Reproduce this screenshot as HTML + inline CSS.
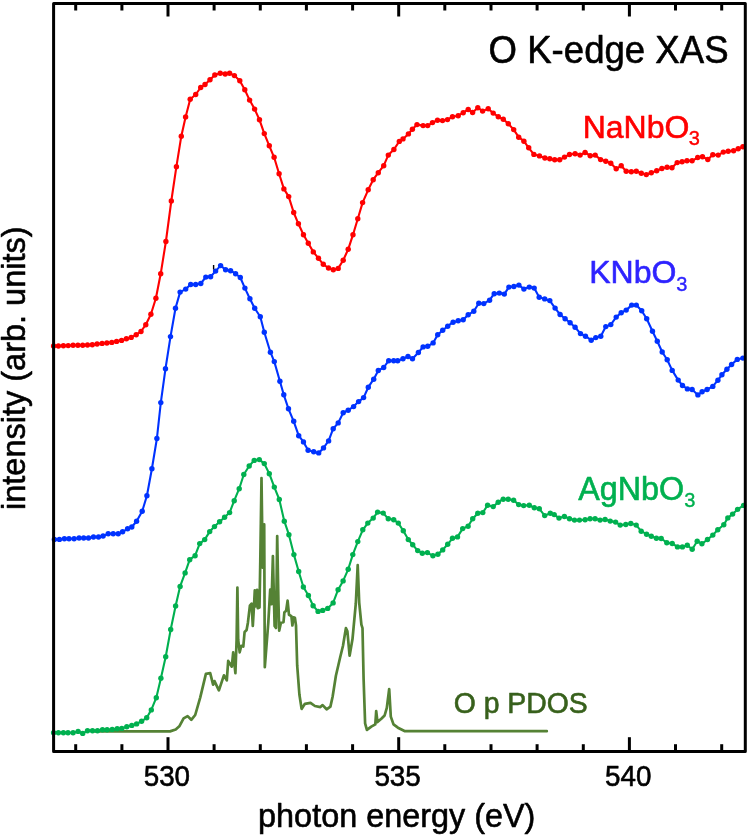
<!DOCTYPE html>
<html lang="en"><head><meta charset="utf-8"><title>O K-edge XAS</title>
<style>html,body{margin:0;padding:0;background:#fff}body{width:748px;height:835px;overflow:hidden}svg{display:block}</style>
</head><body>
<svg width="748" height="835" viewBox="0 0 748 835" font-family="'Liberation Sans', Arial, Helvetica, sans-serif">
<rect width="748" height="835" fill="#fff"/>
<defs><filter id="soft" x="0" y="0" width="100%" height="100%" filterUnits="userSpaceOnUse"><feGaussianBlur stdDeviation="0.45"/></filter></defs>
<g filter="url(#soft)">
<polyline points="95.0,731.4 170.0,731.4 175.7,729.5 179.3,726.3 183.6,718.4 187.6,716.1 191.3,719.8 195.2,715.0 200.2,697.6 205.9,673.9 210.2,673.2 213.1,684.7 214.5,681.1 218.9,690.4 223.9,675.3 226.8,680.3 228.2,660.9 231.8,666.7 233.2,652.3 235.4,673.2 236.6,640.0 237.4,587.5 238.2,640.0 239.7,652.3 241.3,645.8 243.3,646.5 244.6,632.0 246.6,630.0 247.9,622.7 249.9,605.6 251.6,603.6 252.8,626.0 253.8,609.5 254.8,590.4 255.4,606.5 256.0,591.0 256.5,606.0 257.1,589.8 257.8,608.2 259.5,607.6 260.3,560.0 261.5,478.0 262.7,567.7 264.2,524.4 264.8,667.2 268.3,622.7 270.2,589.5 271.5,604.1 272.9,556.0 274.6,626.0 276.0,628.0 277.2,536.0 278.4,600.0 279.2,630.6 280.9,622.7 283.5,622.1 284.4,612.2 286.1,610.9 287.6,600.6 289.0,614.8 291.4,616.1 292.4,625.5 293.5,617.3 294.9,617.8 296.0,625.4 297.2,665.7 299.4,694.5 301.6,708.9 304.9,703.8 310.5,702.9 314.9,706.0 320.4,707.1 322.6,705.1 326.6,709.3 330.4,706.6 332.6,696.7 335.9,675.7 340.3,656.8 343.0,645.8 345.9,628.1 347.4,631.4 349.6,655.7 352.5,639.1 355.8,603.7 357.7,565.0 359.2,602.6 361.4,624.7 362.5,628.1 363.6,679.0 365.1,723.3 366.9,729.9 371.3,726.6 375.3,724.4 376.2,711.1 377.5,722.1 381.3,718.8 384.6,715.5 386.8,707.8 389.2,689.0 390.8,716.6 393.5,724.4 397.9,727.7 405.0,731.2 546.8,731.2" fill="none" stroke="#548235" stroke-width="2.7" stroke-linejoin="round" stroke-linecap="round"/>
<polyline points="53.6,732.8 58.4,732.8 63.4,732.8 68.0,732.8 73.1,732.8 78.1,731.4 82.7,733.4 87.5,730.8 92.5,730.8 97.5,730.8 102.5,729.8 107.1,729.8 112.2,729.4 117.2,728.8 121.8,728.4 126.8,726.8 131.8,725.4 136.6,723.9 141.6,721.3 146.7,717.7 151.3,709.9 156.3,697.7 160.9,678.2 165.7,656.8 170.7,629.5 175.6,606.0 180.1,586.4 185.1,572.9 189.7,559.7 195.1,555.7 199.7,543.6 204.7,539.6 209.7,531.6 214.5,526.6 219.6,521.8 224.6,517.2 229.6,512.6 234.2,500.7 239.2,488.7 243.8,474.5 249.2,466.0 254.2,460.4 259.3,459.6 264.3,463.6 269.3,473.7 274.3,487.1 279.3,499.5 284.3,521.2 288.9,534.7 293.9,554.6 298.7,571.5 303.4,587.0 308.4,595.5 313.1,605.8 318.1,611.4 322.7,610.4 327.7,608.4 333.1,602.9 338.1,589.7 343.1,580.9 348.2,569.3 352.8,554.6 357.8,541.6 362.8,529.8 367.8,523.1 373.2,518.1 377.6,512.1 383.2,513.1 388.3,518.7 393.7,519.7 398.3,523.1 403.3,530.8 408.3,539.6 412.7,544.8 417.7,550.6 422.3,553.2 427.4,552.6 432.9,555.8 437.9,554.2 442.7,549.9 447.7,544.3 452.5,538.3 457.5,536.9 462.7,528.6 468.1,526.2 472.7,518.8 477.8,513.2 482.8,512.6 487.6,505.2 493.2,506.6 498.2,502.2 503.2,499.2 508.2,499.2 513.6,500.2 518.7,504.6 523.7,505.6 529.3,505.2 534.3,507.8 539.3,508.8 544.7,515.6 550.3,513.2 554.2,514.6 559.0,518.1 564.4,516.5 569.5,518.7 574.5,520.1 579.5,520.1 585.1,519.7 590.1,518.7 595.1,518.7 600.1,520.1 605.1,519.5 610.2,521.1 615.6,522.1 620.2,525.1 625.8,524.5 630.8,523.5 636.2,525.1 641.2,531.2 646.6,534.2 651.3,536.2 656.4,538.3 661.2,538.5 666.8,542.7 672.2,543.5 677.5,546.9 682.4,546.9 687.3,545.3 692.2,549.3 697.2,541.2 701.9,543.8 707.5,539.5 712.8,535.1 717.8,529.8 723.8,524.8 727.8,517.9 732.6,514.1 737.6,509.4 743.6,505.4" fill="none" stroke="#00b050" stroke-width="2.1" stroke-linejoin="round" stroke-linecap="round"/>
<g fill="#00b050"><circle cx="53.6" cy="732.8" r="2.7"/><circle cx="58.4" cy="732.8" r="2.7"/><circle cx="63.4" cy="732.8" r="2.7"/><circle cx="68.0" cy="732.8" r="2.7"/><circle cx="73.1" cy="732.8" r="2.7"/><circle cx="78.1" cy="731.4" r="2.7"/><circle cx="82.7" cy="733.4" r="2.7"/><circle cx="87.5" cy="730.8" r="2.7"/><circle cx="92.5" cy="730.8" r="2.7"/><circle cx="97.5" cy="730.8" r="2.7"/><circle cx="102.5" cy="729.8" r="2.7"/><circle cx="107.1" cy="729.8" r="2.7"/><circle cx="112.2" cy="729.4" r="2.7"/><circle cx="117.2" cy="728.8" r="2.7"/><circle cx="121.8" cy="728.4" r="2.7"/><circle cx="126.8" cy="726.8" r="2.7"/><circle cx="131.8" cy="725.4" r="2.7"/><circle cx="136.6" cy="723.9" r="2.7"/><circle cx="141.6" cy="721.3" r="2.7"/><circle cx="146.7" cy="717.7" r="2.7"/><circle cx="151.3" cy="709.9" r="2.7"/><circle cx="156.3" cy="697.7" r="2.7"/><circle cx="160.9" cy="678.2" r="2.7"/><circle cx="165.7" cy="656.8" r="2.7"/><circle cx="170.7" cy="629.5" r="2.7"/><circle cx="175.6" cy="606.0" r="2.7"/><circle cx="180.1" cy="586.4" r="2.7"/><circle cx="185.1" cy="572.9" r="2.7"/><circle cx="189.7" cy="559.7" r="2.7"/><circle cx="195.1" cy="555.7" r="2.7"/><circle cx="199.7" cy="543.6" r="2.7"/><circle cx="204.7" cy="539.6" r="2.7"/><circle cx="209.7" cy="531.6" r="2.7"/><circle cx="214.5" cy="526.6" r="2.7"/><circle cx="219.6" cy="521.8" r="2.7"/><circle cx="224.6" cy="517.2" r="2.7"/><circle cx="229.6" cy="512.6" r="2.7"/><circle cx="234.2" cy="500.7" r="2.7"/><circle cx="239.2" cy="488.7" r="2.7"/><circle cx="243.8" cy="474.5" r="2.7"/><circle cx="249.2" cy="466.0" r="2.7"/><circle cx="254.2" cy="460.4" r="2.7"/><circle cx="259.3" cy="459.6" r="2.7"/><circle cx="264.3" cy="463.6" r="2.7"/><circle cx="269.3" cy="473.7" r="2.7"/><circle cx="274.3" cy="487.1" r="2.7"/><circle cx="279.3" cy="499.5" r="2.7"/><circle cx="284.3" cy="521.2" r="2.7"/><circle cx="288.9" cy="534.7" r="2.7"/><circle cx="293.9" cy="554.6" r="2.7"/><circle cx="298.7" cy="571.5" r="2.7"/><circle cx="303.4" cy="587.0" r="2.7"/><circle cx="308.4" cy="595.5" r="2.7"/><circle cx="313.1" cy="605.8" r="2.7"/><circle cx="318.1" cy="611.4" r="2.7"/><circle cx="322.7" cy="610.4" r="2.7"/><circle cx="327.7" cy="608.4" r="2.7"/><circle cx="333.1" cy="602.9" r="2.7"/><circle cx="338.1" cy="589.7" r="2.7"/><circle cx="343.1" cy="580.9" r="2.7"/><circle cx="348.2" cy="569.3" r="2.7"/><circle cx="352.8" cy="554.6" r="2.7"/><circle cx="357.8" cy="541.6" r="2.7"/><circle cx="362.8" cy="529.8" r="2.7"/><circle cx="367.8" cy="523.1" r="2.7"/><circle cx="373.2" cy="518.1" r="2.7"/><circle cx="377.6" cy="512.1" r="2.7"/><circle cx="383.2" cy="513.1" r="2.7"/><circle cx="388.3" cy="518.7" r="2.7"/><circle cx="393.7" cy="519.7" r="2.7"/><circle cx="398.3" cy="523.1" r="2.7"/><circle cx="403.3" cy="530.8" r="2.7"/><circle cx="408.3" cy="539.6" r="2.7"/><circle cx="412.7" cy="544.8" r="2.7"/><circle cx="417.7" cy="550.6" r="2.7"/><circle cx="422.3" cy="553.2" r="2.7"/><circle cx="427.4" cy="552.6" r="2.7"/><circle cx="432.9" cy="555.8" r="2.7"/><circle cx="437.9" cy="554.2" r="2.7"/><circle cx="442.7" cy="549.9" r="2.7"/><circle cx="447.7" cy="544.3" r="2.7"/><circle cx="452.5" cy="538.3" r="2.7"/><circle cx="457.5" cy="536.9" r="2.7"/><circle cx="462.7" cy="528.6" r="2.7"/><circle cx="468.1" cy="526.2" r="2.7"/><circle cx="472.7" cy="518.8" r="2.7"/><circle cx="477.8" cy="513.2" r="2.7"/><circle cx="482.8" cy="512.6" r="2.7"/><circle cx="487.6" cy="505.2" r="2.7"/><circle cx="493.2" cy="506.6" r="2.7"/><circle cx="498.2" cy="502.2" r="2.7"/><circle cx="503.2" cy="499.2" r="2.7"/><circle cx="508.2" cy="499.2" r="2.7"/><circle cx="513.6" cy="500.2" r="2.7"/><circle cx="518.7" cy="504.6" r="2.7"/><circle cx="523.7" cy="505.6" r="2.7"/><circle cx="529.3" cy="505.2" r="2.7"/><circle cx="534.3" cy="507.8" r="2.7"/><circle cx="539.3" cy="508.8" r="2.7"/><circle cx="544.7" cy="515.6" r="2.7"/><circle cx="550.3" cy="513.2" r="2.7"/><circle cx="554.2" cy="514.6" r="2.7"/><circle cx="559.0" cy="518.1" r="2.7"/><circle cx="564.4" cy="516.5" r="2.7"/><circle cx="569.5" cy="518.7" r="2.7"/><circle cx="574.5" cy="520.1" r="2.7"/><circle cx="579.5" cy="520.1" r="2.7"/><circle cx="585.1" cy="519.7" r="2.7"/><circle cx="590.1" cy="518.7" r="2.7"/><circle cx="595.1" cy="518.7" r="2.7"/><circle cx="600.1" cy="520.1" r="2.7"/><circle cx="605.1" cy="519.5" r="2.7"/><circle cx="610.2" cy="521.1" r="2.7"/><circle cx="615.6" cy="522.1" r="2.7"/><circle cx="620.2" cy="525.1" r="2.7"/><circle cx="625.8" cy="524.5" r="2.7"/><circle cx="630.8" cy="523.5" r="2.7"/><circle cx="636.2" cy="525.1" r="2.7"/><circle cx="641.2" cy="531.2" r="2.7"/><circle cx="646.6" cy="534.2" r="2.7"/><circle cx="651.3" cy="536.2" r="2.7"/><circle cx="656.4" cy="538.3" r="2.7"/><circle cx="661.2" cy="538.5" r="2.7"/><circle cx="666.8" cy="542.7" r="2.7"/><circle cx="672.2" cy="543.5" r="2.7"/><circle cx="677.5" cy="546.9" r="2.7"/><circle cx="682.4" cy="546.9" r="2.7"/><circle cx="687.3" cy="545.3" r="2.7"/><circle cx="692.2" cy="549.3" r="2.7"/><circle cx="697.2" cy="541.2" r="2.7"/><circle cx="701.9" cy="543.8" r="2.7"/><circle cx="707.5" cy="539.5" r="2.7"/><circle cx="712.8" cy="535.1" r="2.7"/><circle cx="717.8" cy="529.8" r="2.7"/><circle cx="723.8" cy="524.8" r="2.7"/><circle cx="727.8" cy="517.9" r="2.7"/><circle cx="732.6" cy="514.1" r="2.7"/><circle cx="737.6" cy="509.4" r="2.7"/><circle cx="743.6" cy="505.4" r="2.7"/></g>
<polyline points="54.4,539.4 59.4,539.4 64.4,538.8 69.0,538.8 74.1,538.8 79.1,538.0 83.7,538.0 88.5,538.0 93.5,537.0 98.5,537.0 103.1,536.0 108.2,533.8 113.2,533.8 118.2,533.8 122.6,531.8 127.6,528.8 131.8,527.0 136.6,521.3 142.2,511.3 146.9,495.7 151.9,468.8 156.9,438.5 160.8,402.6 165.5,368.7 170.5,336.6 175.5,308.2 180.1,292.1 185.7,289.1 190.7,284.5 195.7,284.5 200.8,283.5 205.8,277.1 210.6,276.7 215.6,271.1 220.6,265.6 225.6,269.7 230.6,270.7 235.6,273.7 240.3,277.5 244.9,288.1 249.9,298.7 254.7,308.2 260.3,316.8 264.3,332.2 270.4,352.2 274.3,361.6 279.9,381.2 283.8,394.8 288.5,408.8 293.7,421.3 298.7,435.7 303.5,441.9 308.1,450.3 313.7,451.7 318.7,452.9 323.5,447.9 328.6,440.9 333.2,428.7 338.2,422.9 343.2,412.8 348.2,410.2 353.6,406.6 358.6,401.6 363.6,397.6 368.3,387.2 373.7,379.2 378.3,370.5 383.7,367.5 388.7,360.7 393.7,360.7 397.7,360.7 403.0,358.7 408.0,356.5 412.5,358.8 418.4,352.5 423.1,346.9 427.7,346.3 433.1,342.9 437.7,334.8 442.7,330.2 447.7,326.2 453.1,322.2 458.2,320.8 463.2,319.8 468.2,314.8 473.8,311.2 478.8,303.2 483.8,303.6 489.6,300.2 494.2,293.7 499.3,293.1 504.3,294.1 508.9,287.1 513.9,286.5 518.9,285.1 523.9,289.1 529.3,287.1 534.2,288.1 539.2,297.3 544.7,298.9 549.8,300.6 555.1,308.1 560.1,314.5 565.1,318.8 570.1,322.8 575.1,327.2 580.5,333.6 585.5,336.2 591.2,340.2 595.8,337.6 600.8,336.2 605.8,326.6 610.8,324.6 616.2,317.1 621.2,312.7 626.2,310.1 631.7,305.1 636.3,305.1 641.7,310.7 646.7,318.8 652.5,331.3 657.3,341.2 662.2,352.0 667.2,359.7 672.2,370.4 678.2,380.1 682.5,385.5 687.4,388.9 692.1,389.5 697.9,394.9 702.1,391.8 707.1,389.5 712.8,386.4 717.9,380.2 721.9,374.8 726.9,369.2 731.6,364.5 737.3,359.4 742.9,358.1" fill="none" stroke="#0433ff" stroke-width="2.1" stroke-linejoin="round" stroke-linecap="round"/>
<g fill="#0433ff"><circle cx="54.4" cy="539.4" r="2.7"/><circle cx="59.4" cy="539.4" r="2.7"/><circle cx="64.4" cy="538.8" r="2.7"/><circle cx="69.0" cy="538.8" r="2.7"/><circle cx="74.1" cy="538.8" r="2.7"/><circle cx="79.1" cy="538.0" r="2.7"/><circle cx="83.7" cy="538.0" r="2.7"/><circle cx="88.5" cy="538.0" r="2.7"/><circle cx="93.5" cy="537.0" r="2.7"/><circle cx="98.5" cy="537.0" r="2.7"/><circle cx="103.1" cy="536.0" r="2.7"/><circle cx="108.2" cy="533.8" r="2.7"/><circle cx="113.2" cy="533.8" r="2.7"/><circle cx="118.2" cy="533.8" r="2.7"/><circle cx="122.6" cy="531.8" r="2.7"/><circle cx="127.6" cy="528.8" r="2.7"/><circle cx="131.8" cy="527.0" r="2.7"/><circle cx="136.6" cy="521.3" r="2.7"/><circle cx="142.2" cy="511.3" r="2.7"/><circle cx="146.9" cy="495.7" r="2.7"/><circle cx="151.9" cy="468.8" r="2.7"/><circle cx="156.9" cy="438.5" r="2.7"/><circle cx="160.8" cy="402.6" r="2.7"/><circle cx="165.5" cy="368.7" r="2.7"/><circle cx="170.5" cy="336.6" r="2.7"/><circle cx="175.5" cy="308.2" r="2.7"/><circle cx="180.1" cy="292.1" r="2.7"/><circle cx="185.7" cy="289.1" r="2.7"/><circle cx="190.7" cy="284.5" r="2.7"/><circle cx="195.7" cy="284.5" r="2.7"/><circle cx="200.8" cy="283.5" r="2.7"/><circle cx="205.8" cy="277.1" r="2.7"/><circle cx="210.6" cy="276.7" r="2.7"/><circle cx="215.6" cy="271.1" r="2.7"/><circle cx="220.6" cy="265.6" r="2.7"/><circle cx="225.6" cy="269.7" r="2.7"/><circle cx="230.6" cy="270.7" r="2.7"/><circle cx="235.6" cy="273.7" r="2.7"/><circle cx="240.3" cy="277.5" r="2.7"/><circle cx="244.9" cy="288.1" r="2.7"/><circle cx="249.9" cy="298.7" r="2.7"/><circle cx="254.7" cy="308.2" r="2.7"/><circle cx="260.3" cy="316.8" r="2.7"/><circle cx="264.3" cy="332.2" r="2.7"/><circle cx="270.4" cy="352.2" r="2.7"/><circle cx="274.3" cy="361.6" r="2.7"/><circle cx="279.9" cy="381.2" r="2.7"/><circle cx="283.8" cy="394.8" r="2.7"/><circle cx="288.5" cy="408.8" r="2.7"/><circle cx="293.7" cy="421.3" r="2.7"/><circle cx="298.7" cy="435.7" r="2.7"/><circle cx="303.5" cy="441.9" r="2.7"/><circle cx="308.1" cy="450.3" r="2.7"/><circle cx="313.7" cy="451.7" r="2.7"/><circle cx="318.7" cy="452.9" r="2.7"/><circle cx="323.5" cy="447.9" r="2.7"/><circle cx="328.6" cy="440.9" r="2.7"/><circle cx="333.2" cy="428.7" r="2.7"/><circle cx="338.2" cy="422.9" r="2.7"/><circle cx="343.2" cy="412.8" r="2.7"/><circle cx="348.2" cy="410.2" r="2.7"/><circle cx="353.6" cy="406.6" r="2.7"/><circle cx="358.6" cy="401.6" r="2.7"/><circle cx="363.6" cy="397.6" r="2.7"/><circle cx="368.3" cy="387.2" r="2.7"/><circle cx="373.7" cy="379.2" r="2.7"/><circle cx="378.3" cy="370.5" r="2.7"/><circle cx="383.7" cy="367.5" r="2.7"/><circle cx="388.7" cy="360.7" r="2.7"/><circle cx="393.7" cy="360.7" r="2.7"/><circle cx="397.7" cy="360.7" r="2.7"/><circle cx="403.0" cy="358.7" r="2.7"/><circle cx="408.0" cy="356.5" r="2.7"/><circle cx="412.5" cy="358.8" r="2.7"/><circle cx="418.4" cy="352.5" r="2.7"/><circle cx="423.1" cy="346.9" r="2.7"/><circle cx="427.7" cy="346.3" r="2.7"/><circle cx="433.1" cy="342.9" r="2.7"/><circle cx="437.7" cy="334.8" r="2.7"/><circle cx="442.7" cy="330.2" r="2.7"/><circle cx="447.7" cy="326.2" r="2.7"/><circle cx="453.1" cy="322.2" r="2.7"/><circle cx="458.2" cy="320.8" r="2.7"/><circle cx="463.2" cy="319.8" r="2.7"/><circle cx="468.2" cy="314.8" r="2.7"/><circle cx="473.8" cy="311.2" r="2.7"/><circle cx="478.8" cy="303.2" r="2.7"/><circle cx="483.8" cy="303.6" r="2.7"/><circle cx="489.6" cy="300.2" r="2.7"/><circle cx="494.2" cy="293.7" r="2.7"/><circle cx="499.3" cy="293.1" r="2.7"/><circle cx="504.3" cy="294.1" r="2.7"/><circle cx="508.9" cy="287.1" r="2.7"/><circle cx="513.9" cy="286.5" r="2.7"/><circle cx="518.9" cy="285.1" r="2.7"/><circle cx="523.9" cy="289.1" r="2.7"/><circle cx="529.3" cy="287.1" r="2.7"/><circle cx="534.2" cy="288.1" r="2.7"/><circle cx="539.2" cy="297.3" r="2.7"/><circle cx="544.7" cy="298.9" r="2.7"/><circle cx="549.8" cy="300.6" r="2.7"/><circle cx="555.1" cy="308.1" r="2.7"/><circle cx="560.1" cy="314.5" r="2.7"/><circle cx="565.1" cy="318.8" r="2.7"/><circle cx="570.1" cy="322.8" r="2.7"/><circle cx="575.1" cy="327.2" r="2.7"/><circle cx="580.5" cy="333.6" r="2.7"/><circle cx="585.5" cy="336.2" r="2.7"/><circle cx="591.2" cy="340.2" r="2.7"/><circle cx="595.8" cy="337.6" r="2.7"/><circle cx="600.8" cy="336.2" r="2.7"/><circle cx="605.8" cy="326.6" r="2.7"/><circle cx="610.8" cy="324.6" r="2.7"/><circle cx="616.2" cy="317.1" r="2.7"/><circle cx="621.2" cy="312.7" r="2.7"/><circle cx="626.2" cy="310.1" r="2.7"/><circle cx="631.7" cy="305.1" r="2.7"/><circle cx="636.3" cy="305.1" r="2.7"/><circle cx="641.7" cy="310.7" r="2.7"/><circle cx="646.7" cy="318.8" r="2.7"/><circle cx="652.5" cy="331.3" r="2.7"/><circle cx="657.3" cy="341.2" r="2.7"/><circle cx="662.2" cy="352.0" r="2.7"/><circle cx="667.2" cy="359.7" r="2.7"/><circle cx="672.2" cy="370.4" r="2.7"/><circle cx="678.2" cy="380.1" r="2.7"/><circle cx="682.5" cy="385.5" r="2.7"/><circle cx="687.4" cy="388.9" r="2.7"/><circle cx="692.1" cy="389.5" r="2.7"/><circle cx="697.9" cy="394.9" r="2.7"/><circle cx="702.1" cy="391.8" r="2.7"/><circle cx="707.1" cy="389.5" r="2.7"/><circle cx="712.8" cy="386.4" r="2.7"/><circle cx="717.9" cy="380.2" r="2.7"/><circle cx="721.9" cy="374.8" r="2.7"/><circle cx="726.9" cy="369.2" r="2.7"/><circle cx="731.6" cy="364.5" r="2.7"/><circle cx="737.3" cy="359.4" r="2.7"/><circle cx="742.9" cy="358.1" r="2.7"/></g>
<polyline points="53.6,346.0 58.4,346.0 63.4,345.8 68.2,345.6 73.1,345.2 77.9,345.2 82.7,345.2 87.5,345.0 92.3,344.8 97.1,344.0 102.1,343.4 106.9,343.0 111.8,342.4 116.6,341.4 121.6,340.4 126.4,338.8 131.2,337.4 136.2,334.7 141.0,331.5 145.8,324.7 150.9,314.3 155.9,298.3 160.7,273.8 165.9,241.5 171.3,201.0 176.4,166.7 181.3,136.2 185.6,116.9 190.2,99.3 195.7,94.5 200.7,87.5 205.0,84.5 210.0,79.7 214.8,75.0 220.2,73.2 225.2,74.0 229.6,73.2 234.4,75.6 239.8,80.7 244.8,89.7 249.6,100.1 254.6,109.1 259.5,119.8 264.3,133.6 269.3,145.8 274.1,157.3 279.1,173.7 283.9,188.9 288.7,196.6 293.7,212.5 298.4,223.8 303.5,234.7 308.3,243.3 313.3,251.9 318.5,258.3 323.3,264.3 328.5,268.0 333.3,269.8 338.2,268.4 343.2,260.3 348.2,249.3 353.0,234.7 357.8,218.8 362.6,202.6 368.2,189.8 373.2,179.7 378.3,172.7 383.7,165.7 388.3,155.1 393.9,149.5 399.3,141.4 403.0,138.9 408.4,133.9 412.4,129.3 417.0,124.6 423.1,125.6 427.7,125.6 432.5,122.6 437.5,120.2 442.5,120.6 447.5,119.6 452.5,116.7 458.2,115.7 463.2,112.7 468.2,109.5 472.6,112.5 477.8,107.7 482.6,111.1 488.2,108.7 493.2,113.1 498.3,116.7 503.3,119.2 508.3,123.8 513.7,129.6 518.7,137.2 523.9,141.2 528.7,147.8 533.9,154.4 539.5,155.9 544.9,158.0 549.8,158.8 554.7,159.8 559.7,159.8 564.5,157.1 569.5,154.5 575.1,153.7 580.1,155.1 585.1,152.5 590.2,155.7 595.2,155.1 600.6,159.6 605.8,161.2 610.8,163.2 616.2,168.8 621.2,165.8 626.2,171.2 631.3,171.8 636.3,171.2 641.3,173.2 646.3,174.6 651.3,172.8 656.7,170.8 661.9,168.5 667.1,167.2 672.0,167.7 677.2,162.6 682.1,161.8 687.0,160.8 692.1,160.8 697.7,157.5 702.5,156.8 707.8,159.5 712.8,154.8 718.2,155.1 723.3,152.1 728.2,151.2 733.6,150.8 738.2,148.8 742.9,146.8" fill="none" stroke="#ff0000" stroke-width="2.1" stroke-linejoin="round" stroke-linecap="round"/>
<g fill="#ff0000"><circle cx="53.6" cy="346.0" r="2.7"/><circle cx="58.4" cy="346.0" r="2.7"/><circle cx="63.4" cy="345.8" r="2.7"/><circle cx="68.2" cy="345.6" r="2.7"/><circle cx="73.1" cy="345.2" r="2.7"/><circle cx="77.9" cy="345.2" r="2.7"/><circle cx="82.7" cy="345.2" r="2.7"/><circle cx="87.5" cy="345.0" r="2.7"/><circle cx="92.3" cy="344.8" r="2.7"/><circle cx="97.1" cy="344.0" r="2.7"/><circle cx="102.1" cy="343.4" r="2.7"/><circle cx="106.9" cy="343.0" r="2.7"/><circle cx="111.8" cy="342.4" r="2.7"/><circle cx="116.6" cy="341.4" r="2.7"/><circle cx="121.6" cy="340.4" r="2.7"/><circle cx="126.4" cy="338.8" r="2.7"/><circle cx="131.2" cy="337.4" r="2.7"/><circle cx="136.2" cy="334.7" r="2.7"/><circle cx="141.0" cy="331.5" r="2.7"/><circle cx="145.8" cy="324.7" r="2.7"/><circle cx="150.9" cy="314.3" r="2.7"/><circle cx="155.9" cy="298.3" r="2.7"/><circle cx="160.7" cy="273.8" r="2.7"/><circle cx="165.9" cy="241.5" r="2.7"/><circle cx="171.3" cy="201.0" r="2.7"/><circle cx="176.4" cy="166.7" r="2.7"/><circle cx="181.3" cy="136.2" r="2.7"/><circle cx="185.6" cy="116.9" r="2.7"/><circle cx="190.2" cy="99.3" r="2.7"/><circle cx="195.7" cy="94.5" r="2.7"/><circle cx="200.7" cy="87.5" r="2.7"/><circle cx="205.0" cy="84.5" r="2.7"/><circle cx="210.0" cy="79.7" r="2.7"/><circle cx="214.8" cy="75.0" r="2.7"/><circle cx="220.2" cy="73.2" r="2.7"/><circle cx="225.2" cy="74.0" r="2.7"/><circle cx="229.6" cy="73.2" r="2.7"/><circle cx="234.4" cy="75.6" r="2.7"/><circle cx="239.8" cy="80.7" r="2.7"/><circle cx="244.8" cy="89.7" r="2.7"/><circle cx="249.6" cy="100.1" r="2.7"/><circle cx="254.6" cy="109.1" r="2.7"/><circle cx="259.5" cy="119.8" r="2.7"/><circle cx="264.3" cy="133.6" r="2.7"/><circle cx="269.3" cy="145.8" r="2.7"/><circle cx="274.1" cy="157.3" r="2.7"/><circle cx="279.1" cy="173.7" r="2.7"/><circle cx="283.9" cy="188.9" r="2.7"/><circle cx="288.7" cy="196.6" r="2.7"/><circle cx="293.7" cy="212.5" r="2.7"/><circle cx="298.4" cy="223.8" r="2.7"/><circle cx="303.5" cy="234.7" r="2.7"/><circle cx="308.3" cy="243.3" r="2.7"/><circle cx="313.3" cy="251.9" r="2.7"/><circle cx="318.5" cy="258.3" r="2.7"/><circle cx="323.3" cy="264.3" r="2.7"/><circle cx="328.5" cy="268.0" r="2.7"/><circle cx="333.3" cy="269.8" r="2.7"/><circle cx="338.2" cy="268.4" r="2.7"/><circle cx="343.2" cy="260.3" r="2.7"/><circle cx="348.2" cy="249.3" r="2.7"/><circle cx="353.0" cy="234.7" r="2.7"/><circle cx="357.8" cy="218.8" r="2.7"/><circle cx="362.6" cy="202.6" r="2.7"/><circle cx="368.2" cy="189.8" r="2.7"/><circle cx="373.2" cy="179.7" r="2.7"/><circle cx="378.3" cy="172.7" r="2.7"/><circle cx="383.7" cy="165.7" r="2.7"/><circle cx="388.3" cy="155.1" r="2.7"/><circle cx="393.9" cy="149.5" r="2.7"/><circle cx="399.3" cy="141.4" r="2.7"/><circle cx="403.0" cy="138.9" r="2.7"/><circle cx="408.4" cy="133.9" r="2.7"/><circle cx="412.4" cy="129.3" r="2.7"/><circle cx="417.0" cy="124.6" r="2.7"/><circle cx="423.1" cy="125.6" r="2.7"/><circle cx="427.7" cy="125.6" r="2.7"/><circle cx="432.5" cy="122.6" r="2.7"/><circle cx="437.5" cy="120.2" r="2.7"/><circle cx="442.5" cy="120.6" r="2.7"/><circle cx="447.5" cy="119.6" r="2.7"/><circle cx="452.5" cy="116.7" r="2.7"/><circle cx="458.2" cy="115.7" r="2.7"/><circle cx="463.2" cy="112.7" r="2.7"/><circle cx="468.2" cy="109.5" r="2.7"/><circle cx="472.6" cy="112.5" r="2.7"/><circle cx="477.8" cy="107.7" r="2.7"/><circle cx="482.6" cy="111.1" r="2.7"/><circle cx="488.2" cy="108.7" r="2.7"/><circle cx="493.2" cy="113.1" r="2.7"/><circle cx="498.3" cy="116.7" r="2.7"/><circle cx="503.3" cy="119.2" r="2.7"/><circle cx="508.3" cy="123.8" r="2.7"/><circle cx="513.7" cy="129.6" r="2.7"/><circle cx="518.7" cy="137.2" r="2.7"/><circle cx="523.9" cy="141.2" r="2.7"/><circle cx="528.7" cy="147.8" r="2.7"/><circle cx="533.9" cy="154.4" r="2.7"/><circle cx="539.5" cy="155.9" r="2.7"/><circle cx="544.9" cy="158.0" r="2.7"/><circle cx="549.8" cy="158.8" r="2.7"/><circle cx="554.7" cy="159.8" r="2.7"/><circle cx="559.7" cy="159.8" r="2.7"/><circle cx="564.5" cy="157.1" r="2.7"/><circle cx="569.5" cy="154.5" r="2.7"/><circle cx="575.1" cy="153.7" r="2.7"/><circle cx="580.1" cy="155.1" r="2.7"/><circle cx="585.1" cy="152.5" r="2.7"/><circle cx="590.2" cy="155.7" r="2.7"/><circle cx="595.2" cy="155.1" r="2.7"/><circle cx="600.6" cy="159.6" r="2.7"/><circle cx="605.8" cy="161.2" r="2.7"/><circle cx="610.8" cy="163.2" r="2.7"/><circle cx="616.2" cy="168.8" r="2.7"/><circle cx="621.2" cy="165.8" r="2.7"/><circle cx="626.2" cy="171.2" r="2.7"/><circle cx="631.3" cy="171.8" r="2.7"/><circle cx="636.3" cy="171.2" r="2.7"/><circle cx="641.3" cy="173.2" r="2.7"/><circle cx="646.3" cy="174.6" r="2.7"/><circle cx="651.3" cy="172.8" r="2.7"/><circle cx="656.7" cy="170.8" r="2.7"/><circle cx="661.9" cy="168.5" r="2.7"/><circle cx="667.1" cy="167.2" r="2.7"/><circle cx="672.0" cy="167.7" r="2.7"/><circle cx="677.2" cy="162.6" r="2.7"/><circle cx="682.1" cy="161.8" r="2.7"/><circle cx="687.0" cy="160.8" r="2.7"/><circle cx="692.1" cy="160.8" r="2.7"/><circle cx="697.7" cy="157.5" r="2.7"/><circle cx="702.5" cy="156.8" r="2.7"/><circle cx="707.8" cy="159.5" r="2.7"/><circle cx="712.8" cy="154.8" r="2.7"/><circle cx="718.2" cy="155.1" r="2.7"/><circle cx="723.3" cy="152.1" r="2.7"/><circle cx="728.2" cy="151.2" r="2.7"/><circle cx="733.6" cy="150.8" r="2.7"/><circle cx="738.2" cy="148.8" r="2.7"/><circle cx="742.9" cy="146.8" r="2.7"/></g>
<g stroke="#000" stroke-width="3" fill="none" stroke-linecap="butt">
<rect x="53.6" y="3.6" width="691.7" height="747.8" stroke-linejoin="round"/>
<line x1="75.7" y1="751.4" x2="75.7" y2="744.2"/><line x1="75.7" y1="3.6" x2="75.7" y2="10.5"/><line x1="121.9" y1="751.4" x2="121.9" y2="744.2"/><line x1="121.9" y1="3.6" x2="121.9" y2="10.5"/><line x1="168.0" y1="751.4" x2="168.0" y2="737.2"/><line x1="168.0" y1="3.6" x2="168.0" y2="16.5"/><line x1="214.1" y1="751.4" x2="214.1" y2="744.2"/><line x1="214.1" y1="3.6" x2="214.1" y2="10.5"/><line x1="260.3" y1="751.4" x2="260.3" y2="744.2"/><line x1="260.3" y1="3.6" x2="260.3" y2="10.5"/><line x1="306.4" y1="751.4" x2="306.4" y2="744.2"/><line x1="306.4" y1="3.6" x2="306.4" y2="10.5"/><line x1="352.6" y1="751.4" x2="352.6" y2="744.2"/><line x1="352.6" y1="3.6" x2="352.6" y2="10.5"/><line x1="398.7" y1="751.4" x2="398.7" y2="737.2"/><line x1="398.7" y1="3.6" x2="398.7" y2="16.5"/><line x1="444.8" y1="751.4" x2="444.8" y2="744.2"/><line x1="444.8" y1="3.6" x2="444.8" y2="10.5"/><line x1="491.0" y1="751.4" x2="491.0" y2="744.2"/><line x1="491.0" y1="3.6" x2="491.0" y2="10.5"/><line x1="537.1" y1="751.4" x2="537.1" y2="744.2"/><line x1="537.1" y1="3.6" x2="537.1" y2="10.5"/><line x1="583.3" y1="751.4" x2="583.3" y2="744.2"/><line x1="583.3" y1="3.6" x2="583.3" y2="10.5"/><line x1="629.4" y1="751.4" x2="629.4" y2="737.2"/><line x1="629.4" y1="3.6" x2="629.4" y2="16.5"/><line x1="675.5" y1="751.4" x2="675.5" y2="744.2"/><line x1="675.5" y1="3.6" x2="675.5" y2="10.5"/><line x1="721.7" y1="751.4" x2="721.7" y2="744.2"/><line x1="721.7" y1="3.6" x2="721.7" y2="10.5"/>
</g>
<line x1="213.6" y1="265" x2="213.6" y2="269.5" stroke="#000" stroke-width="1.4"/>
<text x="488.6" y="62.8" font-size="38.3" fill="#000" stroke="#000" stroke-width="0.6" stroke-linejoin="round" text-anchor="start" textLength="240" lengthAdjust="spacingAndGlyphs">O K-edge XAS</text>
<text x="582.7" y="138.1" font-size="32" fill="#ff0000" stroke="#ff0000" stroke-width="0.6" stroke-linejoin="round">NaNbO<tspan x="688.8" y="145.0" font-size="20" stroke-width="0.4">3</tspan></text>
<text x="589.2" y="283.4" font-size="32" fill="#2e24ff" stroke="#2e24ff" stroke-width="0.6" stroke-linejoin="round">KNbO<tspan x="676.3" y="290.6" font-size="20" stroke-width="0.4">3</tspan></text>
<text x="578.2" y="499.6" font-size="32.3" fill="#00b050" stroke="#00b050" stroke-width="0.6" stroke-linejoin="round">AgNbO<tspan x="684.2" y="506.8" font-size="20" stroke-width="0.4">3</tspan></text>
<text x="453.7" y="712.8" font-size="29.6" fill="#37601b" stroke="#37601b" stroke-width="0.6" stroke-linejoin="round" text-anchor="start" textLength="134" lengthAdjust="spacingAndGlyphs">O p PDOS</text>
<text x="166.9" y="785.9" font-size="30" fill="#000" stroke="#000" stroke-width="0.6" stroke-linejoin="round" text-anchor="middle" textLength="46.4" lengthAdjust="spacingAndGlyphs">530</text>
<text x="397.6" y="785.9" font-size="30" fill="#000" stroke="#000" stroke-width="0.6" stroke-linejoin="round" text-anchor="middle" textLength="46.4" lengthAdjust="spacingAndGlyphs">535</text>
<text x="628.3" y="785.9" font-size="30" fill="#000" stroke="#000" stroke-width="0.6" stroke-linejoin="round" text-anchor="middle" textLength="46.4" lengthAdjust="spacingAndGlyphs">540</text>
<text x="258.1" y="826.7" font-size="32.4" fill="#000" stroke="#000" stroke-width="0.6" stroke-linejoin="round" text-anchor="start" >photon energy (eV)</text>
<text transform="translate(25.0,510.0) rotate(-90)" font-size="32.5" stroke="#000" stroke-width="0.6" stroke-linejoin="round">intensity (arb. units)</text>
</g>
</svg>
</body></html>
